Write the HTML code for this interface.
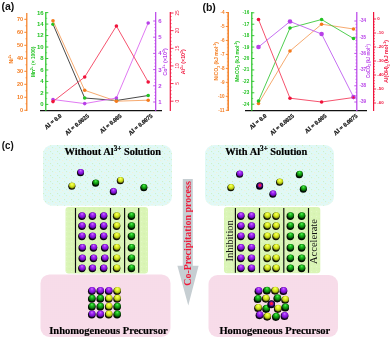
<!DOCTYPE html>
<html><head><meta charset="utf-8"><title>Figure</title>
<style>html,body{margin:0;padding:0;background:#fff}svg{display:block}text{font-family:"Liberation Sans",sans-serif}text.sf{font-family:"Liberation Serif",serif}</style>
</head><body>
<svg width="392" height="339" viewBox="0 0 392 339">
<defs>
<radialGradient id="gP" cx="50%" cy="40%" r="62%" fx="46%" fy="24%"><stop offset="0" stop-color="#cc78ff"/><stop offset="0.36" stop-color="#a024f4"/><stop offset="0.68" stop-color="#7a10cc"/><stop offset="0.88" stop-color="#380660"/><stop offset="1" stop-color="#0a0212"/></radialGradient>
<radialGradient id="gY" cx="50%" cy="40%" r="62%" fx="46%" fy="24%"><stop offset="0" stop-color="#fbff70"/><stop offset="0.36" stop-color="#e2f42a"/><stop offset="0.68" stop-color="#b4c816"/><stop offset="0.88" stop-color="#4a5006"/><stop offset="1" stop-color="#101002"/></radialGradient>
<radialGradient id="gG" cx="50%" cy="40%" r="62%" fx="46%" fy="24%"><stop offset="0" stop-color="#5cf05c"/><stop offset="0.34" stop-color="#1cba1c"/><stop offset="0.66" stop-color="#0c7e0c"/><stop offset="0.88" stop-color="#022802"/><stop offset="1" stop-color="#010c01"/></radialGradient>
<radialGradient id="gR" cx="50%" cy="50%" r="52%" fx="48%" fy="46%"><stop offset="0" stop-color="#ff2a50"/><stop offset="0.3" stop-color="#f01040"/><stop offset="0.5" stop-color="#8a10a0"/><stop offset="0.75" stop-color="#1c0a50"/><stop offset="1" stop-color="#05020c"/></radialGradient>
<g id="bP"><circle cx="-0.25" cy="0.35" r="3.6" fill="#0a0410"/><circle cx="0.15" cy="-0.3" r="3.3" fill="url(#gP)"/></g>
<g id="bY"><circle cx="-0.25" cy="0.35" r="3.6" fill="#101004"/><circle cx="0.15" cy="-0.3" r="3.3" fill="url(#gY)"/></g>
<g id="bG"><circle cx="-0.25" cy="0.35" r="3.6" fill="#020c02"/><circle cx="0.15" cy="-0.3" r="3.3" fill="url(#gG)"/></g>
<g id="bR"><circle cx="-0.25" cy="0.35" r="3.6" fill="#05020c"/><circle cx="0.15" cy="-0.3" r="3.3" fill="url(#gR)"/></g>
<pattern id="pc1" width="7" height="6" patternUnits="userSpaceOnUse"><rect width="7" height="6" fill="#e0f9f7"/><rect x="1" y="1" width="1.1" height="1.1" fill="#d0f0c8"/><rect x="4.5" y="0" width="1.1" height="1.1" fill="#f2f4de"/><rect x="3" y="3" width="1.1" height="1.1" fill="#d4f2cc"/><rect x="6" y="4" width="1" height="1.1" fill="#f0f2da"/><rect x="0.5" y="4.5" width="1" height="1" fill="#f2f4e0"/></pattern>
<pattern id="pc2" width="2" height="2" patternUnits="userSpaceOnUse"><rect width="2" height="2" fill="#f9dfe8"/><rect x="0.5" y="0.5" width="0.9" height="0.9" fill="#f3d0ee"/></pattern>
<pattern id="pc3" width="5" height="5" patternUnits="userSpaceOnUse"><rect width="5" height="5" fill="#daf5b6"/><rect x="1" y="1" width="1.2" height="1.2" fill="#e2f8c6"/><rect x="3.5" y="3.2" width="1.2" height="1.2" fill="#d0f0ac"/></pattern>
</defs>
<rect width="392" height="339" fill="#fff"/>
<g id="pa">
<text x="1.4" y="10" font-size="10.5" font-weight="bold" fill="#111">(a)</text>
<line x1="40" y1="110.6" x2="162" y2="110.6" stroke="#111" stroke-width="1.3"/>
<line x1="26.8" y1="13" x2="26.8" y2="111" stroke="#f47a1c" stroke-width="1.2"/><line x1="26.8" y1="19.3" x2="24.3" y2="19.3" stroke="#f47a1c" stroke-width="0.9"/><line x1="26.8" y1="32.3" x2="24.3" y2="32.3" stroke="#f47a1c" stroke-width="0.9"/><line x1="26.8" y1="45.3" x2="24.3" y2="45.3" stroke="#f47a1c" stroke-width="0.9"/><line x1="26.8" y1="58.3" x2="24.3" y2="58.3" stroke="#f47a1c" stroke-width="0.9"/><line x1="26.8" y1="71.3" x2="24.3" y2="71.3" stroke="#f47a1c" stroke-width="0.9"/><line x1="26.8" y1="84.3" x2="24.3" y2="84.3" stroke="#f47a1c" stroke-width="0.9"/><line x1="26.8" y1="97.3" x2="24.3" y2="97.3" stroke="#f47a1c" stroke-width="0.9"/><line x1="26.8" y1="110.3" x2="24.3" y2="110.3" stroke="#f47a1c" stroke-width="0.9"/><line x1="26.8" y1="25.8" x2="25.400000000000002" y2="25.8" stroke="#f47a1c" stroke-width="0.6"/><line x1="26.8" y1="38.8" x2="25.400000000000002" y2="38.8" stroke="#f47a1c" stroke-width="0.6"/><line x1="26.8" y1="51.8" x2="25.400000000000002" y2="51.8" stroke="#f47a1c" stroke-width="0.6"/><line x1="26.8" y1="64.8" x2="25.400000000000002" y2="64.8" stroke="#f47a1c" stroke-width="0.6"/><line x1="26.8" y1="77.8" x2="25.400000000000002" y2="77.8" stroke="#f47a1c" stroke-width="0.6"/><line x1="26.8" y1="90.8" x2="25.400000000000002" y2="90.8" stroke="#f47a1c" stroke-width="0.6"/><line x1="26.8" y1="103.8" x2="25.400000000000002" y2="103.8" stroke="#f47a1c" stroke-width="0.6"/><text x="23.1" y="19.3" text-anchor="end" font-size="5.5" fill="#f47a1c" font-weight="bold" dy="0.32em">70</text><text x="23.1" y="32.3" text-anchor="end" font-size="5.5" fill="#f47a1c" font-weight="bold" dy="0.32em">60</text><text x="23.1" y="45.3" text-anchor="end" font-size="5.5" fill="#f47a1c" font-weight="bold" dy="0.32em">50</text><text x="23.1" y="58.3" text-anchor="end" font-size="5.5" fill="#f47a1c" font-weight="bold" dy="0.32em">40</text><text x="23.1" y="71.3" text-anchor="end" font-size="5.5" fill="#f47a1c" font-weight="bold" dy="0.32em">30</text><text x="23.1" y="84.3" text-anchor="end" font-size="5.5" fill="#f47a1c" font-weight="bold" dy="0.32em">20</text><text x="23.1" y="97.3" text-anchor="end" font-size="5.5" fill="#f47a1c" font-weight="bold" dy="0.32em">10</text><text x="23.1" y="110.3" text-anchor="end" font-size="5.5" fill="#f47a1c" font-weight="bold" dy="0.32em">0</text>
<text transform="translate(13.2,59) rotate(-90)" text-anchor="middle" font-size="5.2" fill="#f47a1c" font-weight="bold">Ni<tspan font-size="65%" dy="-2">2+</tspan><tspan dy="2">&#8203;</tspan></text>
<line x1="45.8" y1="12" x2="45.8" y2="111" stroke="#22c222" stroke-width="1.2"/><line x1="45.8" y1="12.6" x2="48.3" y2="12.6" stroke="#22c222" stroke-width="0.9"/><line x1="45.8" y1="24.075000000000003" x2="48.3" y2="24.075000000000003" stroke="#22c222" stroke-width="0.9"/><line x1="45.8" y1="35.550000000000004" x2="48.3" y2="35.550000000000004" stroke="#22c222" stroke-width="0.9"/><line x1="45.8" y1="47.025000000000006" x2="48.3" y2="47.025000000000006" stroke="#22c222" stroke-width="0.9"/><line x1="45.8" y1="58.50000000000001" x2="48.3" y2="58.50000000000001" stroke="#22c222" stroke-width="0.9"/><line x1="45.8" y1="69.97500000000001" x2="48.3" y2="69.97500000000001" stroke="#22c222" stroke-width="0.9"/><line x1="45.8" y1="81.45" x2="48.3" y2="81.45" stroke="#22c222" stroke-width="0.9"/><line x1="45.8" y1="92.92500000000001" x2="48.3" y2="92.92500000000001" stroke="#22c222" stroke-width="0.9"/><line x1="45.8" y1="104.4" x2="48.3" y2="104.4" stroke="#22c222" stroke-width="0.9"/><line x1="45.8" y1="18.34" x2="47.199999999999996" y2="18.34" stroke="#22c222" stroke-width="0.6"/><line x1="45.8" y1="29.81" x2="47.199999999999996" y2="29.81" stroke="#22c222" stroke-width="0.6"/><line x1="45.8" y1="41.29" x2="47.199999999999996" y2="41.29" stroke="#22c222" stroke-width="0.6"/><line x1="45.8" y1="52.76" x2="47.199999999999996" y2="52.76" stroke="#22c222" stroke-width="0.6"/><line x1="45.8" y1="64.24" x2="47.199999999999996" y2="64.24" stroke="#22c222" stroke-width="0.6"/><line x1="45.8" y1="75.71" x2="47.199999999999996" y2="75.71" stroke="#22c222" stroke-width="0.6"/><line x1="45.8" y1="87.19" x2="47.199999999999996" y2="87.19" stroke="#22c222" stroke-width="0.6"/><line x1="45.8" y1="98.66" x2="47.199999999999996" y2="98.66" stroke="#22c222" stroke-width="0.6"/><text x="43.599999999999994" y="12.6" text-anchor="end" font-size="6" fill="#22c222" font-weight="bold" dy="0.32em">16</text><text x="43.599999999999994" y="24.075000000000003" text-anchor="end" font-size="6" fill="#22c222" font-weight="bold" dy="0.32em">14</text><text x="43.599999999999994" y="35.550000000000004" text-anchor="end" font-size="6" fill="#22c222" font-weight="bold" dy="0.32em">12</text><text x="43.599999999999994" y="47.025000000000006" text-anchor="end" font-size="6" fill="#22c222" font-weight="bold" dy="0.32em">10</text><text x="43.599999999999994" y="58.50000000000001" text-anchor="end" font-size="6" fill="#22c222" font-weight="bold" dy="0.32em">8</text><text x="43.599999999999994" y="69.97500000000001" text-anchor="end" font-size="6" fill="#22c222" font-weight="bold" dy="0.32em">6</text><text x="43.599999999999994" y="81.45" text-anchor="end" font-size="6" fill="#22c222" font-weight="bold" dy="0.32em">4</text><text x="43.599999999999994" y="92.92500000000001" text-anchor="end" font-size="6" fill="#22c222" font-weight="bold" dy="0.32em">2</text><text x="43.599999999999994" y="104.4" text-anchor="end" font-size="6" fill="#22c222" font-weight="bold" dy="0.32em">0</text>
<text transform="translate(35,61.8) rotate(-90)" text-anchor="middle" font-size="4.9" fill="#22c222" font-weight="bold">Mn<tspan font-size="65%" dy="-2">2+</tspan><tspan dy="2">&#8203;</tspan> (× 1000)</text>
<line x1="155.7" y1="12" x2="155.7" y2="111" stroke="#b840e8" stroke-width="1.2"/><line x1="155.7" y1="21.0" x2="153.2" y2="21.0" stroke="#b840e8" stroke-width="0.9"/><line x1="155.7" y1="37.2" x2="153.2" y2="37.2" stroke="#b840e8" stroke-width="0.9"/><line x1="155.7" y1="53.4" x2="153.2" y2="53.4" stroke="#b840e8" stroke-width="0.9"/><line x1="155.7" y1="69.6" x2="153.2" y2="69.6" stroke="#b840e8" stroke-width="0.9"/><line x1="155.7" y1="85.8" x2="153.2" y2="85.8" stroke="#b840e8" stroke-width="0.9"/><line x1="155.7" y1="102.0" x2="153.2" y2="102.0" stroke="#b840e8" stroke-width="0.9"/><line x1="155.7" y1="24.24" x2="154.29999999999998" y2="24.24" stroke="#b840e8" stroke-width="0.6"/><line x1="155.7" y1="27.48" x2="154.29999999999998" y2="27.48" stroke="#b840e8" stroke-width="0.6"/><line x1="155.7" y1="30.72" x2="154.29999999999998" y2="30.72" stroke="#b840e8" stroke-width="0.6"/><line x1="155.7" y1="33.96" x2="154.29999999999998" y2="33.96" stroke="#b840e8" stroke-width="0.6"/><line x1="155.7" y1="40.44" x2="154.29999999999998" y2="40.44" stroke="#b840e8" stroke-width="0.6"/><line x1="155.7" y1="43.68" x2="154.29999999999998" y2="43.68" stroke="#b840e8" stroke-width="0.6"/><line x1="155.7" y1="46.92" x2="154.29999999999998" y2="46.92" stroke="#b840e8" stroke-width="0.6"/><line x1="155.7" y1="50.16" x2="154.29999999999998" y2="50.16" stroke="#b840e8" stroke-width="0.6"/><line x1="155.7" y1="56.64" x2="154.29999999999998" y2="56.64" stroke="#b840e8" stroke-width="0.6"/><line x1="155.7" y1="59.88" x2="154.29999999999998" y2="59.88" stroke="#b840e8" stroke-width="0.6"/><line x1="155.7" y1="63.12" x2="154.29999999999998" y2="63.12" stroke="#b840e8" stroke-width="0.6"/><line x1="155.7" y1="66.36" x2="154.29999999999998" y2="66.36" stroke="#b840e8" stroke-width="0.6"/><line x1="155.7" y1="72.84" x2="154.29999999999998" y2="72.84" stroke="#b840e8" stroke-width="0.6"/><line x1="155.7" y1="76.08" x2="154.29999999999998" y2="76.08" stroke="#b840e8" stroke-width="0.6"/><line x1="155.7" y1="79.32" x2="154.29999999999998" y2="79.32" stroke="#b840e8" stroke-width="0.6"/><line x1="155.7" y1="82.56" x2="154.29999999999998" y2="82.56" stroke="#b840e8" stroke-width="0.6"/><line x1="155.7" y1="89.04" x2="154.29999999999998" y2="89.04" stroke="#b840e8" stroke-width="0.6"/><line x1="155.7" y1="92.28" x2="154.29999999999998" y2="92.28" stroke="#b840e8" stroke-width="0.6"/><line x1="155.7" y1="95.52" x2="154.29999999999998" y2="95.52" stroke="#b840e8" stroke-width="0.6"/><line x1="155.7" y1="98.76" x2="154.29999999999998" y2="98.76" stroke="#b840e8" stroke-width="0.6"/><text x="158.29999999999998" y="21.0" text-anchor="start" font-size="6" fill="#b840e8" font-weight="bold" dy="0.32em">6</text><text x="158.29999999999998" y="37.2" text-anchor="start" font-size="6" fill="#b840e8" font-weight="bold" dy="0.32em">5</text><text x="158.29999999999998" y="53.4" text-anchor="start" font-size="6" fill="#b840e8" font-weight="bold" dy="0.32em">4</text><text x="158.29999999999998" y="69.6" text-anchor="start" font-size="6" fill="#b840e8" font-weight="bold" dy="0.32em">3</text><text x="158.29999999999998" y="85.8" text-anchor="start" font-size="6" fill="#b840e8" font-weight="bold" dy="0.32em">2</text><text x="158.29999999999998" y="102.0" text-anchor="start" font-size="6" fill="#b840e8" font-weight="bold" dy="0.32em">1</text>
<text transform="translate(167.4,62) rotate(-90)" text-anchor="middle" font-size="5.4" fill="#b840e8" font-weight="bold">Co<tspan font-size="65%" dy="-2">2+</tspan><tspan dy="2">&#8203;</tspan> (×10<tspan font-size="65%" dy="-2">3</tspan><tspan dy="2">&#8203;</tspan>)</text>
<line x1="170.3" y1="12" x2="170.3" y2="111" stroke="#f0143c" stroke-width="1.2"/><line x1="170.3" y1="13.0" x2="173.5" y2="13.0" stroke="#f0143c" stroke-width="0.9"/><line x1="170.3" y1="30.64" x2="173.5" y2="30.64" stroke="#f0143c" stroke-width="0.9"/><line x1="170.3" y1="48.28" x2="173.5" y2="48.28" stroke="#f0143c" stroke-width="0.9"/><line x1="170.3" y1="65.92" x2="173.5" y2="65.92" stroke="#f0143c" stroke-width="0.9"/><line x1="170.3" y1="83.56" x2="173.5" y2="83.56" stroke="#f0143c" stroke-width="0.9"/><line x1="170.3" y1="101.2" x2="173.5" y2="101.2" stroke="#f0143c" stroke-width="0.9"/><line x1="170.3" y1="16.53" x2="171.70000000000002" y2="16.53" stroke="#f0143c" stroke-width="0.6"/><line x1="170.3" y1="20.06" x2="171.70000000000002" y2="20.06" stroke="#f0143c" stroke-width="0.6"/><line x1="170.3" y1="23.58" x2="171.70000000000002" y2="23.58" stroke="#f0143c" stroke-width="0.6"/><line x1="170.3" y1="27.11" x2="171.70000000000002" y2="27.11" stroke="#f0143c" stroke-width="0.6"/><line x1="170.3" y1="34.17" x2="171.70000000000002" y2="34.17" stroke="#f0143c" stroke-width="0.6"/><line x1="170.3" y1="37.7" x2="171.70000000000002" y2="37.7" stroke="#f0143c" stroke-width="0.6"/><line x1="170.3" y1="41.22" x2="171.70000000000002" y2="41.22" stroke="#f0143c" stroke-width="0.6"/><line x1="170.3" y1="44.75" x2="171.70000000000002" y2="44.75" stroke="#f0143c" stroke-width="0.6"/><line x1="170.3" y1="51.81" x2="171.70000000000002" y2="51.81" stroke="#f0143c" stroke-width="0.6"/><line x1="170.3" y1="55.34" x2="171.70000000000002" y2="55.34" stroke="#f0143c" stroke-width="0.6"/><line x1="170.3" y1="58.86" x2="171.70000000000002" y2="58.86" stroke="#f0143c" stroke-width="0.6"/><line x1="170.3" y1="62.39" x2="171.70000000000002" y2="62.39" stroke="#f0143c" stroke-width="0.6"/><line x1="170.3" y1="69.45" x2="171.70000000000002" y2="69.45" stroke="#f0143c" stroke-width="0.6"/><line x1="170.3" y1="72.98" x2="171.70000000000002" y2="72.98" stroke="#f0143c" stroke-width="0.6"/><line x1="170.3" y1="76.5" x2="171.70000000000002" y2="76.5" stroke="#f0143c" stroke-width="0.6"/><line x1="170.3" y1="80.03" x2="171.70000000000002" y2="80.03" stroke="#f0143c" stroke-width="0.6"/><line x1="170.3" y1="87.09" x2="171.70000000000002" y2="87.09" stroke="#f0143c" stroke-width="0.6"/><line x1="170.3" y1="90.62" x2="171.70000000000002" y2="90.62" stroke="#f0143c" stroke-width="0.6"/><line x1="170.3" y1="94.14" x2="171.70000000000002" y2="94.14" stroke="#f0143c" stroke-width="0.6"/><line x1="170.3" y1="97.67" x2="171.70000000000002" y2="97.67" stroke="#f0143c" stroke-width="0.6"/><text transform="translate(177.10000000000002,13.0) rotate(-90)" text-anchor="middle" font-size="4.7" fill="#f0143c" dy="0.35em">25</text><text transform="translate(177.10000000000002,30.64) rotate(-90)" text-anchor="middle" font-size="4.7" fill="#f0143c" dy="0.35em">20</text><text transform="translate(177.10000000000002,48.28) rotate(-90)" text-anchor="middle" font-size="4.7" fill="#f0143c" dy="0.35em">15</text><text transform="translate(177.10000000000002,65.92) rotate(-90)" text-anchor="middle" font-size="4.7" fill="#f0143c" dy="0.35em">10</text><text transform="translate(177.10000000000002,83.56) rotate(-90)" text-anchor="middle" font-size="4.7" fill="#f0143c" dy="0.35em">5</text><text transform="translate(177.10000000000002,101.2) rotate(-90)" text-anchor="middle" font-size="4.7" fill="#f0143c" dy="0.35em">0</text>
<text transform="translate(184.8,61.8) rotate(-90)" text-anchor="middle" font-size="5.25" fill="#f0143c" font-weight="bold">Al<tspan font-size="65%" dy="-2">3+</tspan><tspan dy="2">&#8203;</tspan> (×10<tspan font-size="65%" dy="-2">3</tspan><tspan dy="2">&#8203;</tspan>)</text>
<polyline points="53,24.2 84.7,98 116.4,100.5 148.2,95.5" fill="none" stroke="#333" stroke-width="0.9"/><circle cx="53" cy="24.2" r="1.8" fill="#22c222"/><circle cx="84.7" cy="98" r="1.8" fill="#22c222"/><circle cx="116.4" cy="100.5" r="1.8" fill="#22c222"/><circle cx="148.2" cy="95.5" r="1.8" fill="#22c222"/>
<polyline points="53,20.8 84.7,90.3 116.4,101.2 148.2,100.2" fill="none" stroke="#f5a060" stroke-width="0.9"/><circle cx="53" cy="20.8" r="1.8" fill="#f47a1c"/><circle cx="84.7" cy="90.3" r="1.8" fill="#f47a1c"/><circle cx="116.4" cy="101.2" r="1.8" fill="#f47a1c"/><circle cx="148.2" cy="100.2" r="1.8" fill="#f47a1c"/>
<polyline points="53,99.5 84.7,103.6 116.4,98 148.2,23" fill="none" stroke="#dc6af0" stroke-width="0.9"/><circle cx="53" cy="99.5" r="1.8" fill="#b840e8"/><circle cx="84.7" cy="103.6" r="1.8" fill="#b840e8"/><circle cx="116.4" cy="98" r="1.8" fill="#b840e8"/><circle cx="148.2" cy="23" r="1.8" fill="#b840e8"/>
<polyline points="53,101.6 84.7,77 116.4,26 148.2,82" fill="none" stroke="#f4405e" stroke-width="0.9"/><circle cx="53" cy="101.6" r="1.8" fill="#f0143c"/><circle cx="84.7" cy="77" r="1.8" fill="#f0143c"/><circle cx="116.4" cy="26" r="1.8" fill="#f0143c"/><circle cx="148.2" cy="82" r="1.8" fill="#f0143c"/>
<text transform="translate(62,116.5) rotate(-40)" text-anchor="end" class="sf" font-weight="bold" font-size="6.1" fill="#111" stroke="#111" stroke-width="0.25">Al = 0.0</text><text transform="translate(89.5,116.5) rotate(-40)" text-anchor="end" class="sf" font-weight="bold" font-size="6.1" fill="#111" stroke="#111" stroke-width="0.25">Al = 0.0025</text><text transform="translate(122,116.5) rotate(-40)" text-anchor="end" class="sf" font-weight="bold" font-size="6.1" fill="#111" stroke="#111" stroke-width="0.25">Al = 0.005</text><text transform="translate(153,116.5) rotate(-40)" text-anchor="end" class="sf" font-weight="bold" font-size="6.1" fill="#111" stroke="#111" stroke-width="0.25">Al = 0.0075</text>
</g>
<g id="pb">
<text x="202.4" y="10.8" font-size="10.5" font-weight="bold" fill="#111">(b)</text>
<line x1="245" y1="110.6" x2="367" y2="110.6" stroke="#111" stroke-width="1.3"/>
<line x1="228.3" y1="12" x2="228.3" y2="111" stroke="#f47a1c" stroke-width="1.2"/><line x1="228.3" y1="12.5" x2="225.8" y2="12.5" stroke="#f47a1c" stroke-width="0.9"/><line x1="228.3" y1="26.47142857142857" x2="225.8" y2="26.47142857142857" stroke="#f47a1c" stroke-width="0.9"/><line x1="228.3" y1="40.44285714285714" x2="225.8" y2="40.44285714285714" stroke="#f47a1c" stroke-width="0.9"/><line x1="228.3" y1="54.41428571428571" x2="225.8" y2="54.41428571428571" stroke="#f47a1c" stroke-width="0.9"/><line x1="228.3" y1="68.38571428571429" x2="225.8" y2="68.38571428571429" stroke="#f47a1c" stroke-width="0.9"/><line x1="228.3" y1="82.35714285714286" x2="225.8" y2="82.35714285714286" stroke="#f47a1c" stroke-width="0.9"/><line x1="228.3" y1="96.32857142857142" x2="225.8" y2="96.32857142857142" stroke="#f47a1c" stroke-width="0.9"/><line x1="228.3" y1="110.3" x2="225.8" y2="110.3" stroke="#f47a1c" stroke-width="0.9"/><line x1="228.3" y1="13.9" x2="226.9" y2="13.9" stroke="#f47a1c" stroke-width="0.6"/><line x1="228.3" y1="15.29" x2="226.9" y2="15.29" stroke="#f47a1c" stroke-width="0.6"/><line x1="228.3" y1="16.69" x2="226.9" y2="16.69" stroke="#f47a1c" stroke-width="0.6"/><line x1="228.3" y1="18.09" x2="226.9" y2="18.09" stroke="#f47a1c" stroke-width="0.6"/><line x1="228.3" y1="19.49" x2="226.9" y2="19.49" stroke="#f47a1c" stroke-width="0.6"/><line x1="228.3" y1="20.88" x2="226.9" y2="20.88" stroke="#f47a1c" stroke-width="0.6"/><line x1="228.3" y1="22.28" x2="226.9" y2="22.28" stroke="#f47a1c" stroke-width="0.6"/><line x1="228.3" y1="23.68" x2="226.9" y2="23.68" stroke="#f47a1c" stroke-width="0.6"/><line x1="228.3" y1="25.07" x2="226.9" y2="25.07" stroke="#f47a1c" stroke-width="0.6"/><line x1="228.3" y1="27.87" x2="226.9" y2="27.87" stroke="#f47a1c" stroke-width="0.6"/><line x1="228.3" y1="29.27" x2="226.9" y2="29.27" stroke="#f47a1c" stroke-width="0.6"/><line x1="228.3" y1="30.66" x2="226.9" y2="30.66" stroke="#f47a1c" stroke-width="0.6"/><line x1="228.3" y1="32.06" x2="226.9" y2="32.06" stroke="#f47a1c" stroke-width="0.6"/><line x1="228.3" y1="33.46" x2="226.9" y2="33.46" stroke="#f47a1c" stroke-width="0.6"/><line x1="228.3" y1="34.85" x2="226.9" y2="34.85" stroke="#f47a1c" stroke-width="0.6"/><line x1="228.3" y1="36.25" x2="226.9" y2="36.25" stroke="#f47a1c" stroke-width="0.6"/><line x1="228.3" y1="37.65" x2="226.9" y2="37.65" stroke="#f47a1c" stroke-width="0.6"/><line x1="228.3" y1="39.05" x2="226.9" y2="39.05" stroke="#f47a1c" stroke-width="0.6"/><line x1="228.3" y1="41.84" x2="226.9" y2="41.84" stroke="#f47a1c" stroke-width="0.6"/><line x1="228.3" y1="43.24" x2="226.9" y2="43.24" stroke="#f47a1c" stroke-width="0.6"/><line x1="228.3" y1="44.63" x2="226.9" y2="44.63" stroke="#f47a1c" stroke-width="0.6"/><line x1="228.3" y1="46.03" x2="226.9" y2="46.03" stroke="#f47a1c" stroke-width="0.6"/><line x1="228.3" y1="47.43" x2="226.9" y2="47.43" stroke="#f47a1c" stroke-width="0.6"/><line x1="228.3" y1="48.83" x2="226.9" y2="48.83" stroke="#f47a1c" stroke-width="0.6"/><line x1="228.3" y1="50.22" x2="226.9" y2="50.22" stroke="#f47a1c" stroke-width="0.6"/><line x1="228.3" y1="51.62" x2="226.9" y2="51.62" stroke="#f47a1c" stroke-width="0.6"/><line x1="228.3" y1="53.02" x2="226.9" y2="53.02" stroke="#f47a1c" stroke-width="0.6"/><line x1="228.3" y1="55.81" x2="226.9" y2="55.81" stroke="#f47a1c" stroke-width="0.6"/><line x1="228.3" y1="57.21" x2="226.9" y2="57.21" stroke="#f47a1c" stroke-width="0.6"/><line x1="228.3" y1="58.61" x2="226.9" y2="58.61" stroke="#f47a1c" stroke-width="0.6"/><line x1="228.3" y1="60.0" x2="226.9" y2="60.0" stroke="#f47a1c" stroke-width="0.6"/><line x1="228.3" y1="61.4" x2="226.9" y2="61.4" stroke="#f47a1c" stroke-width="0.6"/><line x1="228.3" y1="62.8" x2="226.9" y2="62.8" stroke="#f47a1c" stroke-width="0.6"/><line x1="228.3" y1="64.19" x2="226.9" y2="64.19" stroke="#f47a1c" stroke-width="0.6"/><line x1="228.3" y1="65.59" x2="226.9" y2="65.59" stroke="#f47a1c" stroke-width="0.6"/><line x1="228.3" y1="66.99" x2="226.9" y2="66.99" stroke="#f47a1c" stroke-width="0.6"/><line x1="228.3" y1="69.78" x2="226.9" y2="69.78" stroke="#f47a1c" stroke-width="0.6"/><line x1="228.3" y1="71.18" x2="226.9" y2="71.18" stroke="#f47a1c" stroke-width="0.6"/><line x1="228.3" y1="72.58" x2="226.9" y2="72.58" stroke="#f47a1c" stroke-width="0.6"/><line x1="228.3" y1="73.97" x2="226.9" y2="73.97" stroke="#f47a1c" stroke-width="0.6"/><line x1="228.3" y1="75.37" x2="226.9" y2="75.37" stroke="#f47a1c" stroke-width="0.6"/><line x1="228.3" y1="76.77" x2="226.9" y2="76.77" stroke="#f47a1c" stroke-width="0.6"/><line x1="228.3" y1="78.17" x2="226.9" y2="78.17" stroke="#f47a1c" stroke-width="0.6"/><line x1="228.3" y1="79.56" x2="226.9" y2="79.56" stroke="#f47a1c" stroke-width="0.6"/><line x1="228.3" y1="80.96" x2="226.9" y2="80.96" stroke="#f47a1c" stroke-width="0.6"/><line x1="228.3" y1="83.75" x2="226.9" y2="83.75" stroke="#f47a1c" stroke-width="0.6"/><line x1="228.3" y1="85.15" x2="226.9" y2="85.15" stroke="#f47a1c" stroke-width="0.6"/><line x1="228.3" y1="86.55" x2="226.9" y2="86.55" stroke="#f47a1c" stroke-width="0.6"/><line x1="228.3" y1="87.95" x2="226.9" y2="87.95" stroke="#f47a1c" stroke-width="0.6"/><line x1="228.3" y1="89.34" x2="226.9" y2="89.34" stroke="#f47a1c" stroke-width="0.6"/><line x1="228.3" y1="90.74" x2="226.9" y2="90.74" stroke="#f47a1c" stroke-width="0.6"/><line x1="228.3" y1="92.14" x2="226.9" y2="92.14" stroke="#f47a1c" stroke-width="0.6"/><line x1="228.3" y1="93.53" x2="226.9" y2="93.53" stroke="#f47a1c" stroke-width="0.6"/><line x1="228.3" y1="94.93" x2="226.9" y2="94.93" stroke="#f47a1c" stroke-width="0.6"/><line x1="228.3" y1="97.73" x2="226.9" y2="97.73" stroke="#f47a1c" stroke-width="0.6"/><line x1="228.3" y1="99.12" x2="226.9" y2="99.12" stroke="#f47a1c" stroke-width="0.6"/><line x1="228.3" y1="100.52" x2="226.9" y2="100.52" stroke="#f47a1c" stroke-width="0.6"/><line x1="228.3" y1="101.92" x2="226.9" y2="101.92" stroke="#f47a1c" stroke-width="0.6"/><line x1="228.3" y1="103.31" x2="226.9" y2="103.31" stroke="#f47a1c" stroke-width="0.6"/><line x1="228.3" y1="104.71" x2="226.9" y2="104.71" stroke="#f47a1c" stroke-width="0.6"/><line x1="228.3" y1="106.11" x2="226.9" y2="106.11" stroke="#f47a1c" stroke-width="0.6"/><line x1="228.3" y1="107.51" x2="226.9" y2="107.51" stroke="#f47a1c" stroke-width="0.6"/><line x1="228.3" y1="108.9" x2="226.9" y2="108.9" stroke="#f47a1c" stroke-width="0.6"/><text x="224.60000000000002" y="12.5" text-anchor="end" font-size="4.6" fill="#f47a1c" font-weight="bold" dy="0.32em">-4</text><text x="224.60000000000002" y="26.47142857142857" text-anchor="end" font-size="4.6" fill="#f47a1c" font-weight="bold" dy="0.32em">-5</text><text x="224.60000000000002" y="40.44285714285714" text-anchor="end" font-size="4.6" fill="#f47a1c" font-weight="bold" dy="0.32em">-6</text><text x="224.60000000000002" y="54.41428571428571" text-anchor="end" font-size="4.6" fill="#f47a1c" font-weight="bold" dy="0.32em">-7</text><text x="224.60000000000002" y="68.38571428571429" text-anchor="end" font-size="4.6" fill="#f47a1c" font-weight="bold" dy="0.32em">-8</text><text x="224.60000000000002" y="82.35714285714286" text-anchor="end" font-size="4.6" fill="#f47a1c" font-weight="bold" dy="0.32em">-9</text><text x="224.60000000000002" y="96.32857142857142" text-anchor="end" font-size="4.6" fill="#f47a1c" font-weight="bold" dy="0.32em">-10</text><text x="224.60000000000002" y="110.3" text-anchor="end" font-size="4.6" fill="#f47a1c" font-weight="bold" dy="0.32em">-11</text>
<text transform="translate(218.3,61.3) rotate(-90)" text-anchor="middle" font-size="5.1" fill="#f47a1c" font-weight="bold">NiCO<tspan font-size="65%" dy="1.5">3</tspan><tspan dy="-1.5">&#8203;</tspan> (kJ mol<tspan font-size="65%" dy="-2">-1</tspan><tspan dy="2">&#8203;</tspan>)</text>
<line x1="251.8" y1="12" x2="251.8" y2="111" stroke="#22c222" stroke-width="1.2"/><line x1="251.8" y1="12.8" x2="254.3" y2="12.8" stroke="#22c222" stroke-width="0.9"/><line x1="251.8" y1="24.225" x2="254.3" y2="24.225" stroke="#22c222" stroke-width="0.9"/><line x1="251.8" y1="35.650000000000006" x2="254.3" y2="35.650000000000006" stroke="#22c222" stroke-width="0.9"/><line x1="251.8" y1="47.075" x2="254.3" y2="47.075" stroke="#22c222" stroke-width="0.9"/><line x1="251.8" y1="58.5" x2="254.3" y2="58.5" stroke="#22c222" stroke-width="0.9"/><line x1="251.8" y1="69.925" x2="254.3" y2="69.925" stroke="#22c222" stroke-width="0.9"/><line x1="251.8" y1="81.35000000000001" x2="254.3" y2="81.35000000000001" stroke="#22c222" stroke-width="0.9"/><line x1="251.8" y1="92.775" x2="254.3" y2="92.775" stroke="#22c222" stroke-width="0.9"/><line x1="251.8" y1="104.2" x2="254.3" y2="104.2" stroke="#22c222" stroke-width="0.9"/><line x1="251.8" y1="18.51" x2="253.20000000000002" y2="18.51" stroke="#22c222" stroke-width="0.6"/><line x1="251.8" y1="29.94" x2="253.20000000000002" y2="29.94" stroke="#22c222" stroke-width="0.6"/><line x1="251.8" y1="41.36" x2="253.20000000000002" y2="41.36" stroke="#22c222" stroke-width="0.6"/><line x1="251.8" y1="52.79" x2="253.20000000000002" y2="52.79" stroke="#22c222" stroke-width="0.6"/><line x1="251.8" y1="64.21" x2="253.20000000000002" y2="64.21" stroke="#22c222" stroke-width="0.6"/><line x1="251.8" y1="75.64" x2="253.20000000000002" y2="75.64" stroke="#22c222" stroke-width="0.6"/><line x1="251.8" y1="87.06" x2="253.20000000000002" y2="87.06" stroke="#22c222" stroke-width="0.6"/><line x1="251.8" y1="98.49" x2="253.20000000000002" y2="98.49" stroke="#22c222" stroke-width="0.6"/><text x="249.20000000000002" y="12.8" text-anchor="end" font-size="4.6" fill="#22c222" font-weight="bold" dy="0.32em">-16</text><text x="249.20000000000002" y="24.225" text-anchor="end" font-size="4.6" fill="#22c222" font-weight="bold" dy="0.32em">-17</text><text x="249.20000000000002" y="35.650000000000006" text-anchor="end" font-size="4.6" fill="#22c222" font-weight="bold" dy="0.32em">-18</text><text x="249.20000000000002" y="47.075" text-anchor="end" font-size="4.6" fill="#22c222" font-weight="bold" dy="0.32em">-19</text><text x="249.20000000000002" y="58.5" text-anchor="end" font-size="4.6" fill="#22c222" font-weight="bold" dy="0.32em">-20</text><text x="249.20000000000002" y="69.925" text-anchor="end" font-size="4.6" fill="#22c222" font-weight="bold" dy="0.32em">-21</text><text x="249.20000000000002" y="81.35000000000001" text-anchor="end" font-size="4.6" fill="#22c222" font-weight="bold" dy="0.32em">-22</text><text x="249.20000000000002" y="92.775" text-anchor="end" font-size="4.6" fill="#22c222" font-weight="bold" dy="0.32em">-23</text><text x="249.20000000000002" y="104.2" text-anchor="end" font-size="4.6" fill="#22c222" font-weight="bold" dy="0.32em">-24</text>
<text transform="translate(238.8,61.3) rotate(-90)" text-anchor="middle" font-size="5.1" fill="#22c222" font-weight="bold">MnCO<tspan font-size="65%" dy="1.5">3</tspan><tspan dy="-1.5">&#8203;</tspan> (kJ mol<tspan font-size="65%" dy="-2">-1</tspan><tspan dy="2">&#8203;</tspan>)</text>
<line x1="356.8" y1="12" x2="356.8" y2="111" stroke="#b840e8" stroke-width="1.2"/><line x1="356.8" y1="21.0" x2="354.3" y2="21.0" stroke="#b840e8" stroke-width="0.9"/><line x1="356.8" y1="37.2" x2="354.3" y2="37.2" stroke="#b840e8" stroke-width="0.9"/><line x1="356.8" y1="53.4" x2="354.3" y2="53.4" stroke="#b840e8" stroke-width="0.9"/><line x1="356.8" y1="69.6" x2="354.3" y2="69.6" stroke="#b840e8" stroke-width="0.9"/><line x1="356.8" y1="85.8" x2="354.3" y2="85.8" stroke="#b840e8" stroke-width="0.9"/><line x1="356.8" y1="102.0" x2="354.3" y2="102.0" stroke="#b840e8" stroke-width="0.9"/><line x1="356.8" y1="24.24" x2="355.40000000000003" y2="24.24" stroke="#b840e8" stroke-width="0.6"/><line x1="356.8" y1="27.48" x2="355.40000000000003" y2="27.48" stroke="#b840e8" stroke-width="0.6"/><line x1="356.8" y1="30.72" x2="355.40000000000003" y2="30.72" stroke="#b840e8" stroke-width="0.6"/><line x1="356.8" y1="33.96" x2="355.40000000000003" y2="33.96" stroke="#b840e8" stroke-width="0.6"/><line x1="356.8" y1="40.44" x2="355.40000000000003" y2="40.44" stroke="#b840e8" stroke-width="0.6"/><line x1="356.8" y1="43.68" x2="355.40000000000003" y2="43.68" stroke="#b840e8" stroke-width="0.6"/><line x1="356.8" y1="46.92" x2="355.40000000000003" y2="46.92" stroke="#b840e8" stroke-width="0.6"/><line x1="356.8" y1="50.16" x2="355.40000000000003" y2="50.16" stroke="#b840e8" stroke-width="0.6"/><line x1="356.8" y1="56.64" x2="355.40000000000003" y2="56.64" stroke="#b840e8" stroke-width="0.6"/><line x1="356.8" y1="59.88" x2="355.40000000000003" y2="59.88" stroke="#b840e8" stroke-width="0.6"/><line x1="356.8" y1="63.12" x2="355.40000000000003" y2="63.12" stroke="#b840e8" stroke-width="0.6"/><line x1="356.8" y1="66.36" x2="355.40000000000003" y2="66.36" stroke="#b840e8" stroke-width="0.6"/><line x1="356.8" y1="72.84" x2="355.40000000000003" y2="72.84" stroke="#b840e8" stroke-width="0.6"/><line x1="356.8" y1="76.08" x2="355.40000000000003" y2="76.08" stroke="#b840e8" stroke-width="0.6"/><line x1="356.8" y1="79.32" x2="355.40000000000003" y2="79.32" stroke="#b840e8" stroke-width="0.6"/><line x1="356.8" y1="82.56" x2="355.40000000000003" y2="82.56" stroke="#b840e8" stroke-width="0.6"/><line x1="356.8" y1="89.04" x2="355.40000000000003" y2="89.04" stroke="#b840e8" stroke-width="0.6"/><line x1="356.8" y1="92.28" x2="355.40000000000003" y2="92.28" stroke="#b840e8" stroke-width="0.6"/><line x1="356.8" y1="95.52" x2="355.40000000000003" y2="95.52" stroke="#b840e8" stroke-width="0.6"/><line x1="356.8" y1="98.76" x2="355.40000000000003" y2="98.76" stroke="#b840e8" stroke-width="0.6"/><text x="359.40000000000003" y="21.0" text-anchor="start" font-size="4.6" fill="#b840e8" font-weight="bold" dy="0.32em">-34</text><text x="359.40000000000003" y="37.2" text-anchor="start" font-size="4.6" fill="#b840e8" font-weight="bold" dy="0.32em">-35</text><text x="359.40000000000003" y="53.4" text-anchor="start" font-size="4.6" fill="#b840e8" font-weight="bold" dy="0.32em">-36</text><text x="359.40000000000003" y="69.6" text-anchor="start" font-size="4.6" fill="#b840e8" font-weight="bold" dy="0.32em">-37</text><text x="359.40000000000003" y="85.8" text-anchor="start" font-size="4.6" fill="#b840e8" font-weight="bold" dy="0.32em">-38</text><text x="359.40000000000003" y="102.0" text-anchor="start" font-size="4.6" fill="#b840e8" font-weight="bold" dy="0.32em">-39</text>
<text transform="translate(369.6,61) rotate(-90) scale(0.86,1)" text-anchor="middle" font-size="5.0" fill="#b840e8" font-weight="bold">CoCO<tspan font-size="65%" dy="1.5">3</tspan><tspan dy="-1.5">&#8203;</tspan> (kJ mol<tspan font-size="65%" dy="-2">-1</tspan><tspan dy="2">&#8203;</tspan>)</text>
<line x1="373.6" y1="12" x2="373.6" y2="111" stroke="#f0143c" stroke-width="1.2"/><line x1="373.6" y1="19.0" x2="376.1" y2="19.0" stroke="#f0143c" stroke-width="0.9"/><line x1="373.6" y1="33.0" x2="376.1" y2="33.0" stroke="#f0143c" stroke-width="0.9"/><line x1="373.6" y1="47.0" x2="376.1" y2="47.0" stroke="#f0143c" stroke-width="0.9"/><line x1="373.6" y1="61.0" x2="376.1" y2="61.0" stroke="#f0143c" stroke-width="0.9"/><line x1="373.6" y1="75.0" x2="376.1" y2="75.0" stroke="#f0143c" stroke-width="0.9"/><line x1="373.6" y1="89.0" x2="376.1" y2="89.0" stroke="#f0143c" stroke-width="0.9"/><line x1="373.6" y1="103.0" x2="376.1" y2="103.0" stroke="#f0143c" stroke-width="0.9"/><line x1="373.6" y1="21.8" x2="375.0" y2="21.8" stroke="#f0143c" stroke-width="0.6"/><line x1="373.6" y1="24.6" x2="375.0" y2="24.6" stroke="#f0143c" stroke-width="0.6"/><line x1="373.6" y1="27.4" x2="375.0" y2="27.4" stroke="#f0143c" stroke-width="0.6"/><line x1="373.6" y1="30.2" x2="375.0" y2="30.2" stroke="#f0143c" stroke-width="0.6"/><line x1="373.6" y1="35.8" x2="375.0" y2="35.8" stroke="#f0143c" stroke-width="0.6"/><line x1="373.6" y1="38.6" x2="375.0" y2="38.6" stroke="#f0143c" stroke-width="0.6"/><line x1="373.6" y1="41.4" x2="375.0" y2="41.4" stroke="#f0143c" stroke-width="0.6"/><line x1="373.6" y1="44.2" x2="375.0" y2="44.2" stroke="#f0143c" stroke-width="0.6"/><line x1="373.6" y1="49.8" x2="375.0" y2="49.8" stroke="#f0143c" stroke-width="0.6"/><line x1="373.6" y1="52.6" x2="375.0" y2="52.6" stroke="#f0143c" stroke-width="0.6"/><line x1="373.6" y1="55.4" x2="375.0" y2="55.4" stroke="#f0143c" stroke-width="0.6"/><line x1="373.6" y1="58.2" x2="375.0" y2="58.2" stroke="#f0143c" stroke-width="0.6"/><line x1="373.6" y1="63.8" x2="375.0" y2="63.8" stroke="#f0143c" stroke-width="0.6"/><line x1="373.6" y1="66.6" x2="375.0" y2="66.6" stroke="#f0143c" stroke-width="0.6"/><line x1="373.6" y1="69.4" x2="375.0" y2="69.4" stroke="#f0143c" stroke-width="0.6"/><line x1="373.6" y1="72.2" x2="375.0" y2="72.2" stroke="#f0143c" stroke-width="0.6"/><line x1="373.6" y1="77.8" x2="375.0" y2="77.8" stroke="#f0143c" stroke-width="0.6"/><line x1="373.6" y1="80.6" x2="375.0" y2="80.6" stroke="#f0143c" stroke-width="0.6"/><line x1="373.6" y1="83.4" x2="375.0" y2="83.4" stroke="#f0143c" stroke-width="0.6"/><line x1="373.6" y1="86.2" x2="375.0" y2="86.2" stroke="#f0143c" stroke-width="0.6"/><line x1="373.6" y1="91.8" x2="375.0" y2="91.8" stroke="#f0143c" stroke-width="0.6"/><line x1="373.6" y1="94.6" x2="375.0" y2="94.6" stroke="#f0143c" stroke-width="0.6"/><line x1="373.6" y1="97.4" x2="375.0" y2="97.4" stroke="#f0143c" stroke-width="0.6"/><line x1="373.6" y1="100.2" x2="375.0" y2="100.2" stroke="#f0143c" stroke-width="0.6"/><text x="377.3" y="19.0" text-anchor="start" font-size="4.4" fill="#f0143c" font-weight="bold" dy="0.32em">0</text><text x="377.3" y="33.0" text-anchor="start" font-size="4.4" fill="#f0143c" font-weight="bold" dy="0.32em">-10</text><text x="377.3" y="47.0" text-anchor="start" font-size="4.4" fill="#f0143c" font-weight="bold" dy="0.32em">-20</text><text x="377.3" y="61.0" text-anchor="start" font-size="4.4" fill="#f0143c" font-weight="bold" dy="0.32em">-30</text><text x="377.3" y="75.0" text-anchor="start" font-size="4.4" fill="#f0143c" font-weight="bold" dy="0.32em">-40</text><text x="377.3" y="89.0" text-anchor="start" font-size="4.4" fill="#f0143c" font-weight="bold" dy="0.32em">-50</text><text x="377.3" y="103.0" text-anchor="start" font-size="4.4" fill="#f0143c" font-weight="bold" dy="0.32em">-60</text>
<text transform="translate(388.1,61.4) rotate(-90)" text-anchor="middle" font-size="5.2" fill="#f0143c" font-weight="bold">Al(OH)<tspan font-size="65%" dy="1.5">3</tspan><tspan dy="-1.5">&#8203;</tspan> (kJ mol<tspan font-size="65%" dy="-2">-1</tspan><tspan dy="2">&#8203;</tspan>)</text>
<polyline points="258.5,103.5 290,51 321.6,24.2 353.5,29" fill="none" stroke="#f5a060" stroke-width="0.9"/><circle cx="258.5" cy="103.5" r="1.8" fill="#f47a1c"/><circle cx="290" cy="51" r="1.8" fill="#f47a1c"/><circle cx="321.6" cy="24.2" r="1.8" fill="#f47a1c"/><circle cx="353.5" cy="29" r="1.8" fill="#f47a1c"/>
<polyline points="258.5,101 290,28 321.6,19.5 353.5,38.5" fill="none" stroke="#3cc83c" stroke-width="0.9"/><circle cx="258.5" cy="101" r="1.8" fill="#22c222"/><circle cx="290" cy="28" r="1.8" fill="#22c222"/><circle cx="321.6" cy="19.5" r="1.8" fill="#22c222"/><circle cx="353.5" cy="38.5" r="1.8" fill="#22c222"/>
<polyline points="258.5,19.5 290,98.2 321.6,102 353.5,97.5" fill="none" stroke="#f4405e" stroke-width="0.9"/><circle cx="258.5" cy="19.5" r="1.8" fill="#f0143c"/><circle cx="290" cy="98.2" r="1.8" fill="#f0143c"/><circle cx="321.6" cy="102" r="1.8" fill="#f0143c"/><circle cx="353.5" cy="97.5" r="1.8" fill="#f0143c"/>
<polyline points="258.5,47 290,21.5 321.6,34 353.5,97" fill="none" stroke="#c060f0" stroke-width="0.9"/><circle cx="258.5" cy="47" r="2.3" fill="#b840e8"/><circle cx="290" cy="21.5" r="2.3" fill="#b840e8"/><circle cx="321.6" cy="34" r="2.3" fill="#b840e8"/><circle cx="353.5" cy="97" r="2.3" fill="#b840e8"/>
<circle cx="353.5" cy="97.4" r="1.1" fill="#f0143c"/>
<text transform="translate(267,116.5) rotate(-40)" text-anchor="end" class="sf" font-weight="bold" font-size="6.1" fill="#111" stroke="#111" stroke-width="0.25">Al = 0.0</text><text transform="translate(294.5,116.5) rotate(-40)" text-anchor="end" class="sf" font-weight="bold" font-size="6.1" fill="#111" stroke="#111" stroke-width="0.25">Al = 0.0025</text><text transform="translate(327,116.5) rotate(-40)" text-anchor="end" class="sf" font-weight="bold" font-size="6.1" fill="#111" stroke="#111" stroke-width="0.25">Al = 0.005</text><text transform="translate(358,116.5) rotate(-40)" text-anchor="end" class="sf" font-weight="bold" font-size="6.1" fill="#111" stroke="#111" stroke-width="0.25">Al = 0.0075</text>
</g>
<g id="pc">
<text transform="translate(1.8,149.4) scale(0.92,1)" font-size="10.6" font-weight="bold" fill="#111">(c)</text>
<rect x="65.5" y="207" width="82.5" height="66.5" rx="3" fill="url(#pc3)"/>
<rect x="43" y="145" width="129" height="60.7" rx="9" fill="url(#pc1)"/>
<rect x="40.5" y="274.4" width="130" height="62.6" rx="9" fill="url(#pc2)"/>
<text x="112.7" y="154.7" text-anchor="middle" font-size="10.4" class="sf" font-weight="bold" fill="#000" stroke="#000" stroke-width="0.18">Without Al<tspan font-size="7.2" dy="-3.3">3+</tspan><tspan dy="3.3"> Solution</tspan></text>
<use href="#bP" transform="translate(80.7,172.4) scale(0.973)"/>
<use href="#bY" transform="translate(72,186) scale(0.973)"/>
<use href="#bG" transform="translate(95.8,182.9) scale(0.973)"/>
<use href="#bY" transform="translate(120.5,180.5) scale(0.973)"/>
<use href="#bP" transform="translate(113.5,191.5) scale(0.973)"/>
<use href="#bG" transform="translate(144,187.5) scale(0.973)"/>
<line x1="75.5" y1="208" x2="75.5" y2="272.8" stroke="#0c0c0c" stroke-width="1.15"/>
<line x1="110.5" y1="208" x2="110.5" y2="272.8" stroke="#0c0c0c" stroke-width="1.15"/>
<line x1="124.6" y1="208" x2="124.6" y2="272.8" stroke="#0c0c0c" stroke-width="1.15"/>
<line x1="138.7" y1="208" x2="138.7" y2="272.8" stroke="#0c0c0c" stroke-width="1.15"/>
<use href="#bP" transform="translate(82.1,215.9) scale(1.027)"/>
<use href="#bP" transform="translate(92.6,215.9) scale(1.027)"/>
<use href="#bP" transform="translate(103.8,215.9) scale(1.027)"/>
<use href="#bY" transform="translate(116.8,215.9) scale(1.027)"/>
<use href="#bG" transform="translate(131.6,215.9) scale(1.027)"/>
<use href="#bP" transform="translate(82.1,225.9) scale(1.027)"/>
<use href="#bP" transform="translate(92.6,225.9) scale(1.027)"/>
<use href="#bP" transform="translate(103.8,225.9) scale(1.027)"/>
<use href="#bY" transform="translate(116.8,225.9) scale(1.027)"/>
<use href="#bG" transform="translate(131.6,225.9) scale(1.027)"/>
<use href="#bP" transform="translate(82.1,236.1) scale(1.027)"/>
<use href="#bP" transform="translate(92.6,236.1) scale(1.027)"/>
<use href="#bP" transform="translate(103.8,236.1) scale(1.027)"/>
<use href="#bY" transform="translate(116.8,236.1) scale(1.027)"/>
<use href="#bG" transform="translate(131.6,236.1) scale(1.027)"/>
<use href="#bP" transform="translate(82.4,247.6) scale(1.027)"/>
<use href="#bP" transform="translate(93.7,247.6) scale(1.027)"/>
<use href="#bP" transform="translate(104.9,247.6) scale(1.027)"/>
<use href="#bY" transform="translate(116.8,247.6) scale(1.027)"/>
<use href="#bG" transform="translate(131.6,247.6) scale(1.027)"/>
<use href="#bP" transform="translate(82.4,258.1) scale(1.027)"/>
<use href="#bP" transform="translate(93.7,258.1) scale(1.027)"/>
<use href="#bP" transform="translate(104.9,258.1) scale(1.027)"/>
<use href="#bY" transform="translate(116.8,258.1) scale(1.027)"/>
<use href="#bG" transform="translate(131.6,258.1) scale(1.027)"/>
<use href="#bP" transform="translate(82.1,268.2) scale(1.027)"/>
<use href="#bP" transform="translate(92.6,268.2) scale(1.027)"/>
<use href="#bP" transform="translate(103.8,268.2) scale(1.027)"/>
<use href="#bY" transform="translate(116.8,268.2) scale(1.027)"/>
<use href="#bG" transform="translate(131.6,268.2) scale(1.027)"/>
<use href="#bP" transform="translate(92,290.9) scale(1.053)"/>
<use href="#bP" transform="translate(100.4,290.9) scale(1.053)"/>
<use href="#bP" transform="translate(108.9,290.9) scale(1.053)"/>
<use href="#bY" transform="translate(117.3,290.9) scale(1.053)"/>
<use href="#bG" transform="translate(92,298.6) scale(1.053)"/>
<use href="#bG" transform="translate(100.4,298.6) scale(1.053)"/>
<use href="#bY" transform="translate(108.9,298.6) scale(1.053)"/>
<use href="#bY" transform="translate(117.3,298.6) scale(1.053)"/>
<use href="#bG" transform="translate(92,306.6) scale(1.053)"/>
<use href="#bG" transform="translate(100.4,306.6) scale(1.053)"/>
<use href="#bY" transform="translate(108.9,306.6) scale(1.053)"/>
<use href="#bG" transform="translate(117.3,306.6) scale(1.053)"/>
<use href="#bP" transform="translate(92,314.4) scale(1.053)"/>
<use href="#bP" transform="translate(100.4,314.4) scale(1.053)"/>
<use href="#bY" transform="translate(108.9,314.4) scale(1.053)"/>
<use href="#bG" transform="translate(117.3,314.4) scale(1.053)"/>
<text x="108.4" y="333.8" text-anchor="middle" font-size="10.55" class="sf" font-weight="bold" fill="#000" stroke="#000" stroke-width="0.18">Inhomogeneous Precursor</text>
<polygon points="182.8,179 192.8,179 192.8,265.8 198.6,265.8 188.3,305.5 177.4,265.8 182.8,265.8" fill="#c6ced2"/>
<text transform="translate(190.9,285.7) rotate(-90) scale(0.89,1)" font-size="11.2" class="sf" font-weight="bold" fill="#f01838">Co-Precipitation process</text>
<rect x="224" y="207" width="96.3" height="66.3" rx="3" fill="url(#pc3)"/>
<rect x="205" y="145" width="129" height="60.7" rx="9" fill="url(#pc1)"/>
<rect x="208.5" y="275.1" width="129.5" height="61.9" rx="9" fill="url(#pc2)"/>
<text x="266.3" y="154.7" text-anchor="middle" font-size="10.4" class="sf" font-weight="bold" fill="#000" stroke="#000" stroke-width="0.18">With Al<tspan font-size="7.2" dy="-3.3">3+</tspan><tspan dy="3.3"> Solution</tspan></text>
<use href="#bP" transform="translate(239.8,174) scale(0.973)"/>
<use href="#bY" transform="translate(231,187.5) scale(0.973)"/>
<use href="#bR" transform="translate(259.8,185.8) scale(0.973)"/>
<use href="#bY" transform="translate(279.8,182) scale(0.973)"/>
<use href="#bP" transform="translate(273,193.8) scale(0.973)"/>
<use href="#bG" transform="translate(299.5,174.3) scale(0.973)"/>
<use href="#bG" transform="translate(303.5,188.8) scale(0.973)"/>
<line x1="235.4" y1="208" x2="235.4" y2="272.8" stroke="#0c0c0c" stroke-width="1.15"/>
<line x1="259.5" y1="208" x2="259.5" y2="272.8" stroke="#0c0c0c" stroke-width="1.15"/>
<line x1="283.8" y1="208" x2="283.8" y2="272.8" stroke="#0c0c0c" stroke-width="1.15"/>
<line x1="308.5" y1="208" x2="308.5" y2="272.8" stroke="#0c0c0c" stroke-width="1.15"/>
<use href="#bP" transform="translate(241,215.9) scale(1.027)"/>
<use href="#bP" transform="translate(251.6,215.9) scale(1.027)"/>
<use href="#bY" transform="translate(267.3,215.9) scale(1.027)"/>
<use href="#bY" transform="translate(276.2,215.9) scale(1.027)"/>
<use href="#bG" transform="translate(290.5,215.9) scale(1.027)"/>
<use href="#bG" transform="translate(301.8,215.9) scale(1.027)"/>
<use href="#bP" transform="translate(241,225.9) scale(1.027)"/>
<use href="#bP" transform="translate(251.6,225.9) scale(1.027)"/>
<use href="#bY" transform="translate(267.3,225.9) scale(1.027)"/>
<use href="#bY" transform="translate(276.2,225.9) scale(1.027)"/>
<use href="#bG" transform="translate(290.5,225.9) scale(1.027)"/>
<use href="#bG" transform="translate(301.8,225.9) scale(1.027)"/>
<use href="#bP" transform="translate(241,236.1) scale(1.027)"/>
<use href="#bP" transform="translate(251.6,236.1) scale(1.027)"/>
<use href="#bY" transform="translate(267.3,236.1) scale(1.027)"/>
<use href="#bY" transform="translate(276.2,236.1) scale(1.027)"/>
<use href="#bG" transform="translate(290.5,236.1) scale(1.027)"/>
<use href="#bG" transform="translate(301.8,236.1) scale(1.027)"/>
<use href="#bP" transform="translate(241,247.6) scale(1.027)"/>
<use href="#bP" transform="translate(251.6,247.6) scale(1.027)"/>
<use href="#bY" transform="translate(267.3,247.6) scale(1.027)"/>
<use href="#bY" transform="translate(276.2,247.6) scale(1.027)"/>
<use href="#bG" transform="translate(290.5,247.6) scale(1.027)"/>
<use href="#bG" transform="translate(301.8,247.6) scale(1.027)"/>
<use href="#bP" transform="translate(241,258.1) scale(1.027)"/>
<use href="#bP" transform="translate(251.6,258.1) scale(1.027)"/>
<use href="#bY" transform="translate(267.3,258.1) scale(1.027)"/>
<use href="#bY" transform="translate(276.2,258.1) scale(1.027)"/>
<use href="#bG" transform="translate(290.5,258.1) scale(1.027)"/>
<use href="#bG" transform="translate(301.8,258.1) scale(1.027)"/>
<use href="#bP" transform="translate(241,268.2) scale(1.027)"/>
<use href="#bP" transform="translate(251.6,268.2) scale(1.027)"/>
<use href="#bY" transform="translate(267.3,268.2) scale(1.027)"/>
<use href="#bY" transform="translate(276.2,268.2) scale(1.027)"/>
<use href="#bG" transform="translate(290.5,268.2) scale(1.027)"/>
<use href="#bG" transform="translate(301.8,268.2) scale(1.027)"/>
<text transform="translate(232.5,261.6) rotate(-90)" font-size="10.5" class="sf" fill="#111">Inhibition</text>
<text transform="translate(317,264) rotate(-90)" font-size="10.5" class="sf" fill="#111">Accelerate</text>
<use href="#bP" transform="translate(258.7,290.9) scale(1.067)"/>
<use href="#bG" transform="translate(267,290.5) scale(1.067)"/>
<use href="#bY" transform="translate(275.2,290.5) scale(1.067)"/>
<use href="#bP" transform="translate(283.6,290.8) scale(1.067)"/>
<use href="#bG" transform="translate(257.9,298.9) scale(1.067)"/>
<use href="#bY" transform="translate(266,298.5) scale(1.067)"/>
<use href="#bG" transform="translate(277.5,298.2) scale(1.067)"/>
<use href="#bY" transform="translate(285.3,299.6) scale(1.067)"/>
<use href="#bY" transform="translate(258.3,307.8) scale(1.067)"/>
<use href="#bG" transform="translate(266.3,308.7) scale(1.067)"/>
<use href="#bY" transform="translate(278,308.7) scale(1.067)"/>
<use href="#bG" transform="translate(285.4,307.3) scale(1.067)"/>
<use href="#bP" transform="translate(259.7,315) scale(1.067)"/>
<use href="#bY" transform="translate(267.4,316.5) scale(1.067)"/>
<use href="#bG" transform="translate(276.1,316.7) scale(1.067)"/>
<use href="#bP" transform="translate(284.7,315.8) scale(1.067)"/>
<use href="#bR" transform="translate(271.4,304.1) scale(1.067)"/>
<text x="274.8" y="333.8" text-anchor="middle" font-size="10.55" class="sf" font-weight="bold" fill="#000" stroke="#000" stroke-width="0.18">Homogeneous Precursor</text>
</g>
</svg></body></html>
